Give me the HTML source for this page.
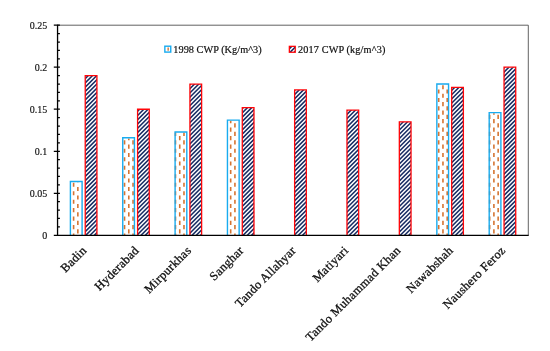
<!DOCTYPE html>
<html><head><meta charset="utf-8"><title>CWP chart</title>
<style>html,body{margin:0;padding:0;background:#fff}svg{display:block}text{font-family:"Liberation Serif",serif;fill:#111}</style></head><body>
<svg width="550" height="351" viewBox="0 0 550 351">
<defs>
</defs>
<rect width="550" height="351" fill="#fff"/>
<path d="M57.55,25.2 H528.3 V235.3" fill="none" stroke="#5a5a5a" stroke-width="0.95"/>
<path d="M73.60,182.68V186.79M73.60,191.16V195.27M73.60,199.64V203.75M73.60,208.12V212.23M73.60,216.60V220.71M73.60,225.08V229.19M73.60,233.56V235.30M77.85,182.16V182.55M77.85,186.92V191.03M77.85,195.40V199.51M77.85,203.88V207.99M77.85,212.36V216.47M77.85,220.84V224.95M77.85,229.32V233.43" stroke="#d67431" stroke-width="1.6" fill="none"/>
<path d="M70.40,235.3V181.51H82.10V235.3" fill="none" stroke="#19abef" stroke-width="1.4"/>
<path d="M124.55,140.28V144.39M124.55,148.76V152.87M124.55,157.24V161.35M124.55,165.72V169.83M124.55,174.20V178.31M124.55,182.68V186.79M124.55,191.16V195.27M124.55,199.64V203.75M124.55,208.12V212.23M124.55,216.60V220.71M124.55,225.08V229.19M124.55,233.56V235.30M128.79,138.46V140.15M128.79,144.52V148.63M128.79,153.00V157.11M128.79,161.48V165.59M128.79,169.96V174.07M128.79,178.44V182.55M128.79,186.92V191.03M128.79,195.40V199.51M128.79,203.88V207.99M128.79,212.36V216.47M128.79,220.84V224.95M128.79,229.32V233.43M133.04,140.28V144.39M133.04,148.76V152.87M133.04,157.24V161.35M133.04,165.72V169.83M133.04,174.20V178.31M133.04,182.68V186.79M133.04,191.16V195.27M133.04,199.64V203.75M133.04,208.12V212.23M133.04,216.60V220.71M133.04,225.08V229.19M133.04,233.56V235.30" stroke="#d67431" stroke-width="1.6" fill="none"/>
<path d="M122.75,235.3V137.81H134.45V235.3" fill="none" stroke="#19abef" stroke-width="1.4"/>
<path d="M175.49,132.58V135.91M175.49,140.28V144.39M175.49,148.76V152.87M175.49,157.24V161.35M175.49,165.72V169.83M175.49,174.20V178.31M175.49,182.68V186.79M175.49,191.16V195.27M175.49,199.64V203.75M175.49,208.12V212.23M175.49,216.60V220.71M175.49,225.08V229.19M175.49,233.56V235.30M179.74,136.04V140.15M179.74,144.52V148.63M179.74,153.00V157.11M179.74,161.48V165.59M179.74,169.96V174.07M179.74,178.44V182.55M179.74,186.92V191.03M179.74,195.40V199.51M179.74,203.88V207.99M179.74,212.36V216.47M179.74,220.84V224.95M179.74,229.32V233.43M183.98,132.58V135.91M183.98,140.28V144.39M183.98,148.76V152.87M183.98,157.24V161.35M183.98,165.72V169.83M183.98,174.20V178.31M183.98,182.68V186.79M183.98,191.16V195.27M183.98,199.64V203.75M183.98,208.12V212.23M183.98,216.60V220.71M183.98,225.08V229.19M183.98,233.56V235.30" stroke="#d67431" stroke-width="1.6" fill="none"/>
<path d="M175.10,235.3V131.93H186.80V235.3" fill="none" stroke="#19abef" stroke-width="1.4"/>
<path d="M230.68,120.82V123.19M230.68,127.56V131.67M230.68,136.04V140.15M230.68,144.52V148.63M230.68,153.00V157.11M230.68,161.48V165.59M230.68,169.96V174.07M230.68,178.44V182.55M230.68,186.92V191.03M230.68,195.40V199.51M230.68,203.88V207.99M230.68,212.36V216.47M230.68,220.84V224.95M230.68,229.32V233.43M234.93,123.32V127.43M234.93,131.80V135.91M234.93,140.28V144.39M234.93,148.76V152.87M234.93,157.24V161.35M234.93,165.72V169.83M234.93,174.20V178.31M234.93,182.68V186.79M234.93,191.16V195.27M234.93,199.64V203.75M234.93,208.12V212.23M234.93,216.60V220.71M234.93,225.08V229.19M234.93,233.56V235.30" stroke="#d67431" stroke-width="1.6" fill="none"/>
<path d="M227.45,235.3V120.17H239.15V235.3" fill="none" stroke="#19abef" stroke-width="1.4"/>
<path d="M438.71,84.68V85.03M438.71,89.40V93.51M438.71,97.88V101.99M438.71,106.36V110.47M438.71,114.84V118.95M438.71,123.32V127.43M438.71,131.80V135.91M438.71,140.28V144.39M438.71,148.76V152.87M438.71,157.24V161.35M438.71,165.72V169.83M438.71,174.20V178.31M438.71,182.68V186.79M438.71,191.16V195.27M438.71,199.64V203.75M438.71,208.12V212.23M438.71,216.60V220.71M438.71,225.08V229.19M438.71,233.56V235.30M442.96,85.16V89.27M442.96,93.64V97.75M442.96,102.12V106.23M442.96,110.60V114.71M442.96,119.08V123.19M442.96,127.56V131.67M442.96,136.04V140.15M442.96,144.52V148.63M442.96,153.00V157.11M442.96,161.48V165.59M442.96,169.96V174.07M442.96,178.44V182.55M442.96,186.92V191.03M442.96,195.40V199.51M442.96,203.88V207.99M442.96,212.36V216.47M442.96,220.84V224.95M442.96,229.32V233.43M447.20,84.68V85.03M447.20,89.40V93.51M447.20,97.88V101.99M447.20,106.36V110.47M447.20,114.84V118.95M447.20,123.32V127.43M447.20,131.80V135.91M447.20,140.28V144.39M447.20,148.76V152.87M447.20,157.24V161.35M447.20,165.72V169.83M447.20,174.20V178.31M447.20,182.68V186.79M447.20,191.16V195.27M447.20,199.64V203.75M447.20,208.12V212.23M447.20,216.60V220.71M447.20,225.08V229.19M447.20,233.56V235.30" stroke="#d67431" stroke-width="1.6" fill="none"/>
<path d="M436.85,235.3V84.03H448.55V235.3" fill="none" stroke="#19abef" stroke-width="1.4"/>
<path d="M489.66,114.84V118.95M489.66,123.32V127.43M489.66,131.80V135.91M489.66,140.28V144.39M489.66,148.76V152.87M489.66,157.24V161.35M489.66,165.72V169.83M489.66,174.20V178.31M489.66,182.68V186.79M489.66,191.16V195.27M489.66,199.64V203.75M489.66,208.12V212.23M489.66,216.60V220.71M489.66,225.08V229.19M489.66,233.56V235.30M493.90,113.25V114.71M493.90,119.08V123.19M493.90,127.56V131.67M493.90,136.04V140.15M493.90,144.52V148.63M493.90,153.00V157.11M493.90,161.48V165.59M493.90,169.96V174.07M493.90,178.44V182.55M493.90,186.92V191.03M493.90,195.40V199.51M493.90,203.88V207.99M493.90,212.36V216.47M493.90,220.84V224.95M493.90,229.32V233.43M498.15,114.84V118.95M498.15,123.32V127.43M498.15,131.80V135.91M498.15,140.28V144.39M498.15,148.76V152.87M498.15,157.24V161.35M498.15,165.72V169.83M498.15,174.20V178.31M498.15,182.68V186.79M498.15,191.16V195.27M498.15,199.64V203.75M498.15,208.12V212.23M498.15,216.60V220.71M498.15,225.08V229.19M498.15,233.56V235.30" stroke="#d67431" stroke-width="1.6" fill="none"/>
<path d="M489.20,235.3V112.60H500.90V235.3" fill="none" stroke="#19abef" stroke-width="1.4"/>
<clipPath id="cr"><rect x="85.23" y="75.62" width="11.70" height="159.68"/><rect x="137.58" y="109.24" width="11.70" height="126.06"/><rect x="189.93" y="84.03" width="11.70" height="151.27"/><rect x="242.28" y="107.56" width="11.70" height="127.74"/><rect x="294.63" y="89.91" width="11.70" height="145.39"/><rect x="346.98" y="110.08" width="11.70" height="125.22"/><rect x="399.33" y="121.85" width="11.70" height="113.45"/><rect x="451.68" y="87.39" width="11.70" height="147.91"/><rect x="504.03" y="67.22" width="11.70" height="168.08"/><rect x="289.35" y="46.35" width="5.90" height="5.90"/></clipPath>
<path d="M-118.68,240L81.32,40M-114.43,240L85.57,40M-110.18,240L89.82,40M-105.93,240L94.07,40M-101.68,240L98.32,40M-97.43,240L102.57,40M-93.18,240L106.82,40M-88.93,240L111.07,40M-84.68,240L115.32,40M-80.43,240L119.57,40M-76.18,240L123.82,40M-71.93,240L128.07,40M-67.68,240L132.32,40M-63.43,240L136.57,40M-59.18,240L140.82,40M-54.93,240L145.07,40M-50.68,240L149.32,40M-46.43,240L153.57,40M-42.18,240L157.82,40M-37.93,240L162.07,40M-33.68,240L166.32,40M-29.43,240L170.57,40M-25.18,240L174.82,40M-20.93,240L179.07,40M-16.68,240L183.32,40M-12.43,240L187.57,40M-8.18,240L191.82,40M-3.93,240L196.07,40M0.32,240L200.32,40M4.57,240L204.57,40M8.82,240L208.82,40M13.07,240L213.07,40M17.32,240L217.32,40M21.57,240L221.57,40M25.82,240L225.82,40M30.07,240L230.07,40M34.32,240L234.32,40M38.57,240L238.57,40M42.82,240L242.82,40M47.07,240L247.07,40M51.32,240L251.32,40M55.57,240L255.57,40M59.82,240L259.82,40M64.07,240L264.07,40M68.32,240L268.32,40M72.57,240L272.57,40M76.82,240L276.82,40M81.07,240L281.07,40M85.32,240L285.32,40M89.57,240L289.57,40M93.82,240L293.82,40M98.07,240L298.07,40M102.32,240L302.32,40M106.57,240L306.57,40M110.82,240L310.82,40M115.07,240L315.07,40M119.32,240L319.32,40M123.57,240L323.57,40M127.82,240L327.82,40M132.07,240L332.07,40M136.32,240L336.32,40M140.57,240L340.57,40M144.82,240L344.82,40M149.07,240L349.07,40M153.32,240L353.32,40M157.57,240L357.57,40M161.82,240L361.82,40M166.07,240L366.07,40M170.32,240L370.32,40M174.57,240L374.57,40M178.82,240L378.82,40M183.07,240L383.07,40M187.32,240L387.32,40M191.57,240L391.57,40M195.82,240L395.82,40M200.07,240L400.07,40M204.32,240L404.32,40M208.57,240L408.57,40M212.82,240L412.82,40M217.07,240L417.07,40M221.32,240L421.32,40M225.57,240L425.57,40M229.82,240L429.82,40M234.07,240L434.07,40M238.32,240L438.32,40M242.57,240L442.57,40M246.82,240L446.82,40M251.07,240L451.07,40M255.32,240L455.32,40M259.57,240L459.57,40M263.82,240L463.82,40M268.07,240L468.07,40M272.32,240L472.32,40M276.57,240L476.57,40M280.82,240L480.82,40M285.07,240L485.07,40M289.32,240L489.32,40M293.57,240L493.57,40M297.82,240L497.82,40M302.07,240L502.07,40M306.32,240L506.32,40M310.57,240L510.57,40M314.82,240L514.82,40M319.07,240L519.07,40M323.32,240L523.32,40M327.57,240L527.57,40M331.82,240L531.82,40M336.07,240L536.07,40M340.32,240L540.32,40M344.57,240L544.57,40M348.82,240L548.82,40M353.07,240L553.07,40M357.32,240L557.32,40M361.57,240L561.57,40M365.82,240L565.82,40M370.07,240L570.07,40M374.32,240L574.32,40M378.57,240L578.57,40M382.82,240L582.82,40M387.07,240L587.07,40M391.32,240L591.32,40M395.57,240L595.57,40M399.82,240L599.82,40M404.07,240L604.07,40M408.32,240L608.32,40M412.57,240L612.57,40M416.82,240L616.82,40M421.07,240L621.07,40M425.32,240L625.32,40M429.57,240L629.57,40M433.82,240L633.82,40M438.07,240L638.07,40M442.32,240L642.32,40M446.57,240L646.57,40M450.82,240L650.82,40M455.07,240L655.07,40M459.32,240L659.32,40M463.57,240L663.57,40M467.82,240L667.82,40M472.07,240L672.07,40M476.32,240L676.32,40M480.57,240L680.57,40M484.82,240L684.82,40M489.07,240L689.07,40M493.32,240L693.32,40M497.57,240L697.57,40M501.82,240L701.82,40M506.07,240L706.07,40M510.32,240L710.32,40M514.57,240L714.57,40M518.82,240L718.82,40M523.07,240L723.07,40" stroke="#182d64" stroke-width="1.5" fill="none" clip-path="url(#cr)"/>
<path d="M85.23,235.3V75.62H96.93V235.3" fill="none" stroke="#ff0508" stroke-width="1.3"/>
<path d="M137.58,235.3V109.24H149.28V235.3" fill="none" stroke="#ff0508" stroke-width="1.3"/>
<path d="M189.93,235.3V84.03H201.63V235.3" fill="none" stroke="#ff0508" stroke-width="1.3"/>
<path d="M242.28,235.3V107.56H253.98V235.3" fill="none" stroke="#ff0508" stroke-width="1.3"/>
<path d="M294.63,235.3V89.91H306.33V235.3" fill="none" stroke="#ff0508" stroke-width="1.3"/>
<path d="M346.98,235.3V110.08H358.68V235.3" fill="none" stroke="#ff0508" stroke-width="1.3"/>
<path d="M399.33,235.3V121.85H411.03V235.3" fill="none" stroke="#ff0508" stroke-width="1.3"/>
<path d="M451.68,235.3V87.39H463.38V235.3" fill="none" stroke="#ff0508" stroke-width="1.3"/>
<path d="M504.03,235.3V67.22H515.73V235.3" fill="none" stroke="#ff0508" stroke-width="1.3"/>
<rect x="289.35" y="46.35" width="5.90" height="5.90" fill="none" stroke="#ff0508" stroke-width="1.3"/>
<path d="M57.55,24.7 V235.3" stroke="#000" stroke-width="1.3" fill="none"/>
<path d="M53.8,235.3 H528.6999999999999" stroke="#000" stroke-width="1.25" fill="none"/>
<path d="M57.55,226.90H59.9M57.55,218.49H59.9M57.55,210.09H59.9M57.55,201.68H59.9M53.8,193.28H59.9M57.55,184.88H59.9M57.55,176.47H59.9M57.55,168.07H59.9M57.55,159.66H59.9M53.8,151.26H59.9M57.55,142.86H59.9M57.55,134.45H59.9M57.55,126.05H59.9M57.55,117.64H59.9M53.8,109.24H59.9M57.55,100.84H59.9M57.55,92.43H59.9M57.55,84.03H59.9M57.55,75.62H59.9M53.8,67.22H59.9M57.55,58.82H59.9M57.55,50.41H59.9M57.55,42.01H59.9M57.55,33.60H59.9M53.8,25.20H59.9" stroke="#000" stroke-width="1.25" fill="none"/>
<text x="47.2" y="238.75" font-size="10" stroke="#111" stroke-width="0.15" text-anchor="end">0</text>
<text x="47.2" y="196.73" font-size="10" stroke="#111" stroke-width="0.15" text-anchor="end">0.05</text>
<text x="47.2" y="154.71" font-size="10" stroke="#111" stroke-width="0.15" text-anchor="end">0.1</text>
<text x="47.2" y="112.69" font-size="10" stroke="#111" stroke-width="0.15" text-anchor="end">0.15</text>
<text x="47.2" y="70.67" font-size="10" stroke="#111" stroke-width="0.15" text-anchor="end">0.2</text>
<text x="47.2" y="28.65" font-size="10" stroke="#111" stroke-width="0.15" text-anchor="end">0.25</text>
<text id="xl0" transform="translate(87.30,251.20) rotate(-45)" font-size="12.3" letter-spacing="0.3" stroke="#111" stroke-width="0.3" text-anchor="end">Badin</text>
<text id="xl1" transform="translate(139.65,251.20) rotate(-45)" font-size="12.3" letter-spacing="0.3" stroke="#111" stroke-width="0.3" text-anchor="end">Hyderabad</text>
<text id="xl2" transform="translate(192.00,251.20) rotate(-45)" font-size="12.3" letter-spacing="0.3" stroke="#111" stroke-width="0.3" text-anchor="end">Mirpurkhas</text>
<text id="xl3" transform="translate(244.35,251.20) rotate(-45)" font-size="12.3" letter-spacing="0.3" stroke="#111" stroke-width="0.3" text-anchor="end">Sanghar</text>
<text id="xl4" transform="translate(296.70,251.20) rotate(-45)" font-size="12.3" letter-spacing="0.3" stroke="#111" stroke-width="0.3" text-anchor="end">Tando Allahyar</text>
<text id="xl5" transform="translate(349.05,251.20) rotate(-45)" font-size="12.3" letter-spacing="0.3" stroke="#111" stroke-width="0.3" text-anchor="end">Matiyari</text>
<text id="xl6" transform="translate(401.40,251.20) rotate(-45)" font-size="12.3" letter-spacing="0.3" stroke="#111" stroke-width="0.3" text-anchor="end">Tando Muhammad Khan</text>
<text id="xl7" transform="translate(453.75,251.20) rotate(-45)" font-size="12.3" letter-spacing="0.3" stroke="#111" stroke-width="0.3" text-anchor="end">Nawabshah</text>
<text id="xl8" transform="translate(506.10,251.20) rotate(-45)" font-size="12.3" letter-spacing="0.3" stroke="#111" stroke-width="0.3" text-anchor="end">Naushero Feroz</text>
<rect x="164.85" y="46.2" width="5.9" height="5.9" fill="#fff" stroke="#19abef" stroke-width="1.4"/>
<rect x="167.5" y="47.5" width="1.3" height="3.2" fill="#cf6d2a"/>
<text id="lg1" x="173.3" y="52.6" font-size="10.25" textLength="88.3" stroke="#111" stroke-width="0.2">1998 CWP (Kg/m^3)</text>
<text id="lg2" x="298.0" y="52.6" font-size="10.25" textLength="87.3" stroke="#111" stroke-width="0.2">2017 CWP (kg/m^3)</text>
</svg></body></html>
